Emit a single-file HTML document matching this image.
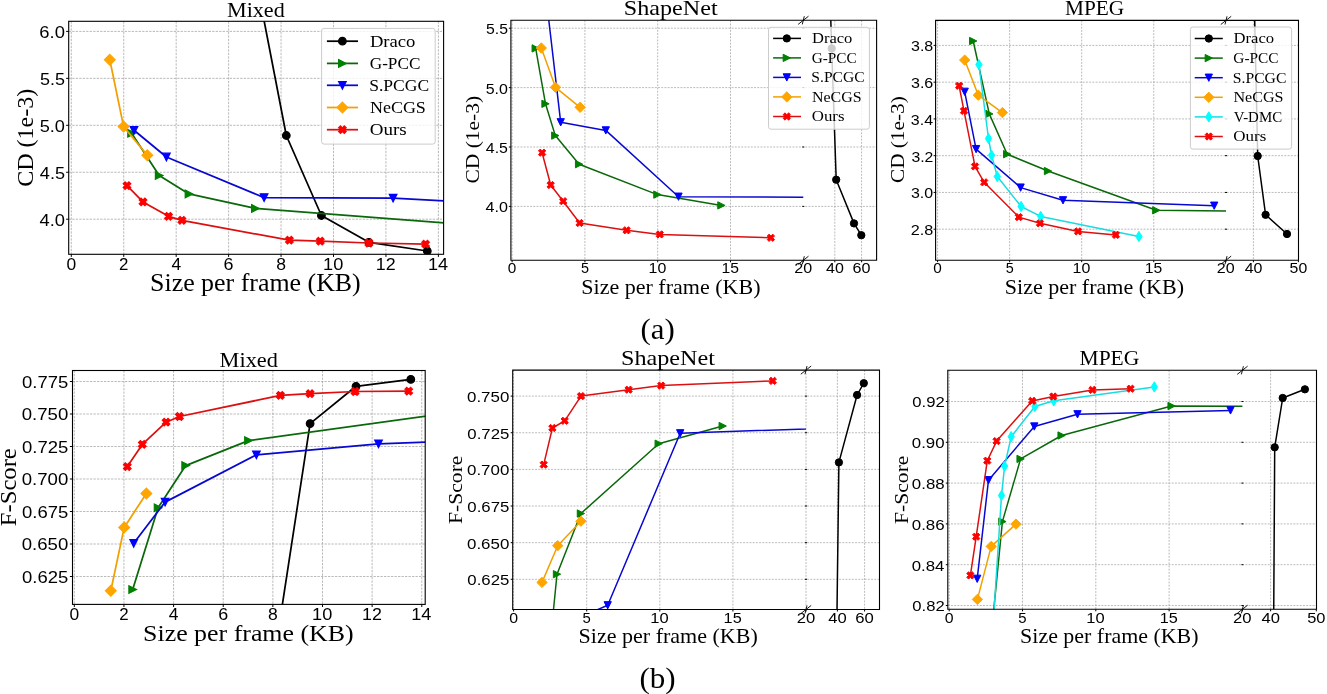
<!DOCTYPE html>
<html><head><meta charset="utf-8"><style>
html,body{margin:0;padding:0;background:#fff;}
svg{display:block;will-change:transform;}
</style></head><body>
<svg width="1327" height="694" viewBox="0 0 1327 694">
<defs><clipPath id="c1"><rect x="68.7" y="21.3" width="374.90000000000003" height="233.0"/></clipPath><clipPath id="c2"><rect x="510.9" y="20.3" width="292.4" height="240.0"/></clipPath><clipPath id="c3"><rect x="803.3" y="20.3" width="73.30000000000007" height="240.0"/></clipPath><clipPath id="c4"><rect x="935.6" y="20.4" width="290.4" height="239.79999999999998"/></clipPath><clipPath id="c5"><rect x="1226.0" y="20.4" width="72.5" height="239.79999999999998"/></clipPath><clipPath id="c6"><rect x="72.5" y="370.5" width="352.7" height="233.89999999999998"/></clipPath><clipPath id="c7"><rect x="512.7" y="370.1" width="293.29999999999995" height="239.39999999999998"/></clipPath><clipPath id="c8"><rect x="806.0" y="370.1" width="73.5" height="239.39999999999998"/></clipPath><clipPath id="c9"><rect x="947.8" y="370.3" width="294.60000000000014" height="238.99999999999994"/></clipPath><clipPath id="c10"><rect x="1242.4" y="370.3" width="74.09999999999991" height="238.99999999999994"/></clipPath></defs>
<rect width="1327" height="694" fill="#fff"/>
<line x1="71.30" y1="21.3" x2="71.30" y2="254.3" stroke="#a8a8a8" stroke-width="0.8" stroke-dasharray="2.3,1.2"/>
<line x1="123.74" y1="21.3" x2="123.74" y2="254.3" stroke="#a8a8a8" stroke-width="0.8" stroke-dasharray="2.3,1.2"/>
<line x1="176.18" y1="21.3" x2="176.18" y2="254.3" stroke="#a8a8a8" stroke-width="0.8" stroke-dasharray="2.3,1.2"/>
<line x1="228.62" y1="21.3" x2="228.62" y2="254.3" stroke="#a8a8a8" stroke-width="0.8" stroke-dasharray="2.3,1.2"/>
<line x1="281.06" y1="21.3" x2="281.06" y2="254.3" stroke="#a8a8a8" stroke-width="0.8" stroke-dasharray="2.3,1.2"/>
<line x1="333.50" y1="21.3" x2="333.50" y2="254.3" stroke="#a8a8a8" stroke-width="0.8" stroke-dasharray="2.3,1.2"/>
<line x1="385.94" y1="21.3" x2="385.94" y2="254.3" stroke="#a8a8a8" stroke-width="0.8" stroke-dasharray="2.3,1.2"/>
<line x1="438.38" y1="21.3" x2="438.38" y2="254.3" stroke="#a8a8a8" stroke-width="0.8" stroke-dasharray="2.3,1.2"/>
<line x1="68.7" y1="219.20" x2="443.6" y2="219.20" stroke="#a8a8a8" stroke-width="0.8" stroke-dasharray="2.3,1.2"/>
<line x1="68.7" y1="172.25" x2="443.6" y2="172.25" stroke="#a8a8a8" stroke-width="0.8" stroke-dasharray="2.3,1.2"/>
<line x1="68.7" y1="125.30" x2="443.6" y2="125.30" stroke="#a8a8a8" stroke-width="0.8" stroke-dasharray="2.3,1.2"/>
<line x1="68.7" y1="78.35" x2="443.6" y2="78.35" stroke="#a8a8a8" stroke-width="0.8" stroke-dasharray="2.3,1.2"/>
<line x1="68.7" y1="31.40" x2="443.6" y2="31.40" stroke="#a8a8a8" stroke-width="0.8" stroke-dasharray="2.3,1.2"/>
<g clip-path="url(#c1)"><polyline points="250.40,-50.00 286.30,135.50 321.40,215.50 368.90,242.30 427.30,251.00" fill="none" stroke="#000000" stroke-width="1.75" stroke-linejoin="round" stroke-linecap="butt"/><circle cx="250.40" cy="-50.00" r="3.80" fill="#000000" stroke="#000000" stroke-width="1.2"/><circle cx="286.30" cy="135.50" r="3.80" fill="#000000" stroke="#000000" stroke-width="1.2"/><circle cx="321.40" cy="215.50" r="3.80" fill="#000000" stroke="#000000" stroke-width="1.2"/><circle cx="368.90" cy="242.30" r="3.80" fill="#000000" stroke="#000000" stroke-width="1.2"/><circle cx="427.30" cy="251.00" r="3.80" fill="#000000" stroke="#000000" stroke-width="1.2"/></g>
<g clip-path="url(#c1)"><polyline points="131.60,133.30 159.20,175.50 189.00,193.90 255.40,208.40 460.00,224.20" fill="none" stroke="#0a680a" stroke-width="1.75" stroke-linejoin="round" stroke-linecap="butt"/><polygon points="127.80,129.50 135.40,133.30 127.80,137.10" fill="#008000" stroke="#008000" stroke-width="1.2" stroke-linejoin="miter"/><polygon points="155.40,171.70 163.00,175.50 155.40,179.30" fill="#008000" stroke="#008000" stroke-width="1.2" stroke-linejoin="miter"/><polygon points="185.20,190.10 192.80,193.90 185.20,197.70" fill="#008000" stroke="#008000" stroke-width="1.2" stroke-linejoin="miter"/><polygon points="251.60,204.60 259.20,208.40 251.60,212.20" fill="#008000" stroke="#008000" stroke-width="1.2" stroke-linejoin="miter"/><polygon points="456.20,220.40 463.80,224.20 456.20,228.00" fill="#008000" stroke="#008000" stroke-width="1.2" stroke-linejoin="miter"/></g>
<g clip-path="url(#c1)"><polyline points="134.00,130.30 166.40,157.00 264.10,197.60 393.10,198.20 460.00,201.70" fill="none" stroke="#0808d0" stroke-width="1.75" stroke-linejoin="round" stroke-linecap="butt"/><polygon points="130.20,126.50 137.80,126.50 134.00,134.10" fill="#0000ff" stroke="#0000ff" stroke-width="1.2" stroke-linejoin="miter"/><polygon points="162.60,153.20 170.20,153.20 166.40,160.80" fill="#0000ff" stroke="#0000ff" stroke-width="1.2" stroke-linejoin="miter"/><polygon points="260.30,193.80 267.90,193.80 264.10,201.40" fill="#0000ff" stroke="#0000ff" stroke-width="1.2" stroke-linejoin="miter"/><polygon points="389.30,194.40 396.90,194.40 393.10,202.00" fill="#0000ff" stroke="#0000ff" stroke-width="1.2" stroke-linejoin="miter"/><polygon points="456.20,197.90 463.80,197.90 460.00,205.50" fill="#0000ff" stroke="#0000ff" stroke-width="1.2" stroke-linejoin="miter"/></g>
<g clip-path="url(#c1)"><polyline points="109.80,59.80 123.60,126.60 147.30,155.20" fill="none" stroke="#f2a000" stroke-width="1.75" stroke-linejoin="round" stroke-linecap="butt"/><polygon points="109.80,54.43 115.17,59.80 109.80,65.17 104.43,59.80" fill="#ffa500" stroke="#ffa500" stroke-width="1.2" stroke-linejoin="miter"/><polygon points="123.60,121.23 128.97,126.60 123.60,131.97 118.23,126.60" fill="#ffa500" stroke="#ffa500" stroke-width="1.2" stroke-linejoin="miter"/><polygon points="147.30,149.83 152.67,155.20 147.30,160.57 141.93,155.20" fill="#ffa500" stroke="#ffa500" stroke-width="1.2" stroke-linejoin="miter"/></g>
<g clip-path="url(#c1)"><polyline points="127.00,185.60 143.00,201.90 168.50,216.30 181.90,220.30 289.40,240.20 320.30,241.20 368.90,243.00 425.60,244.10" fill="none" stroke="#dc1010" stroke-width="1.75" stroke-linejoin="round" stroke-linecap="butt"/><polygon points="125.10,181.80 127.00,183.70 128.90,181.80 130.80,183.70 128.90,185.60 130.80,187.50 128.90,189.40 127.00,187.50 125.10,189.40 123.20,187.50 125.10,185.60 123.20,183.70" fill="#ff0000" stroke="#ff0000" stroke-width="1.2" stroke-linejoin="miter"/><polygon points="141.10,198.10 143.00,200.00 144.90,198.10 146.80,200.00 144.90,201.90 146.80,203.80 144.90,205.70 143.00,203.80 141.10,205.70 139.20,203.80 141.10,201.90 139.20,200.00" fill="#ff0000" stroke="#ff0000" stroke-width="1.2" stroke-linejoin="miter"/><polygon points="166.60,212.50 168.50,214.40 170.40,212.50 172.30,214.40 170.40,216.30 172.30,218.20 170.40,220.10 168.50,218.20 166.60,220.10 164.70,218.20 166.60,216.30 164.70,214.40" fill="#ff0000" stroke="#ff0000" stroke-width="1.2" stroke-linejoin="miter"/><polygon points="180.00,216.50 181.90,218.40 183.80,216.50 185.70,218.40 183.80,220.30 185.70,222.20 183.80,224.10 181.90,222.20 180.00,224.10 178.10,222.20 180.00,220.30 178.10,218.40" fill="#ff0000" stroke="#ff0000" stroke-width="1.2" stroke-linejoin="miter"/><polygon points="287.50,236.40 289.40,238.30 291.30,236.40 293.20,238.30 291.30,240.20 293.20,242.10 291.30,244.00 289.40,242.10 287.50,244.00 285.60,242.10 287.50,240.20 285.60,238.30" fill="#ff0000" stroke="#ff0000" stroke-width="1.2" stroke-linejoin="miter"/><polygon points="318.40,237.40 320.30,239.30 322.20,237.40 324.10,239.30 322.20,241.20 324.10,243.10 322.20,245.00 320.30,243.10 318.40,245.00 316.50,243.10 318.40,241.20 316.50,239.30" fill="#ff0000" stroke="#ff0000" stroke-width="1.2" stroke-linejoin="miter"/><polygon points="367.00,239.20 368.90,241.10 370.80,239.20 372.70,241.10 370.80,243.00 372.70,244.90 370.80,246.80 368.90,244.90 367.00,246.80 365.10,244.90 367.00,243.00 365.10,241.10" fill="#ff0000" stroke="#ff0000" stroke-width="1.2" stroke-linejoin="miter"/><polygon points="423.70,240.30 425.60,242.20 427.50,240.30 429.40,242.20 427.50,244.10 429.40,246.00 427.50,247.90 425.60,246.00 423.70,247.90 421.80,246.00 423.70,244.10 421.80,242.20" fill="#ff0000" stroke="#ff0000" stroke-width="1.2" stroke-linejoin="miter"/></g>
<rect x="68.7" y="21.3" width="374.90000000000003" height="233.0" fill="none" stroke="#000" stroke-width="1.1"/>
<line x1="71.30" y1="254.3" x2="71.30" y2="256.90000000000003" stroke="#000" stroke-width="1"/>
<line x1="123.74" y1="254.3" x2="123.74" y2="256.90000000000003" stroke="#000" stroke-width="1"/>
<line x1="176.18" y1="254.3" x2="176.18" y2="256.90000000000003" stroke="#000" stroke-width="1"/>
<line x1="228.62" y1="254.3" x2="228.62" y2="256.90000000000003" stroke="#000" stroke-width="1"/>
<line x1="281.06" y1="254.3" x2="281.06" y2="256.90000000000003" stroke="#000" stroke-width="1"/>
<line x1="333.50" y1="254.3" x2="333.50" y2="256.90000000000003" stroke="#000" stroke-width="1"/>
<line x1="385.94" y1="254.3" x2="385.94" y2="256.90000000000003" stroke="#000" stroke-width="1"/>
<line x1="438.38" y1="254.3" x2="438.38" y2="256.90000000000003" stroke="#000" stroke-width="1"/>
<line x1="66.10000000000001" y1="219.20" x2="68.7" y2="219.20" stroke="#000" stroke-width="1"/>
<line x1="66.10000000000001" y1="172.25" x2="68.7" y2="172.25" stroke="#000" stroke-width="1"/>
<line x1="66.10000000000001" y1="125.30" x2="68.7" y2="125.30" stroke="#000" stroke-width="1"/>
<line x1="66.10000000000001" y1="78.35" x2="68.7" y2="78.35" stroke="#000" stroke-width="1"/>
<line x1="66.10000000000001" y1="31.40" x2="68.7" y2="31.40" stroke="#000" stroke-width="1"/>
<text transform="translate(39.51,225.55) scale(1.1109,1)" font-family='"Liberation Sans", sans-serif' font-size="16.50">4.0</text>
<text transform="translate(39.84,178.60) scale(1.0979,1)" font-family='"Liberation Sans", sans-serif' font-size="16.50">4.5</text>
<text transform="translate(39.69,131.65) scale(1.1029,1)" font-family='"Liberation Sans", sans-serif' font-size="16.50">5.0</text>
<text transform="translate(40.03,84.70) scale(1.0897,1)" font-family='"Liberation Sans", sans-serif' font-size="16.50">5.5</text>
<text transform="translate(39.37,37.75) scale(1.1171,1)" font-family='"Liberation Sans", sans-serif' font-size="16.50">6.0</text>
<text transform="translate(66.44,270.21) scale(1.0576,1)" font-family='"Liberation Sans", sans-serif' font-size="16.50">0</text>
<text transform="translate(119.06,270.21) scale(1.0220,1)" font-family='"Liberation Sans", sans-serif' font-size="16.50">2</text>
<text transform="translate(171.40,270.21) scale(1.0545,1)" font-family='"Liberation Sans", sans-serif' font-size="16.50">4</text>
<text transform="translate(223.58,270.21) scale(1.0865,1)" font-family='"Liberation Sans", sans-serif' font-size="16.50">6</text>
<text transform="translate(276.19,270.21) scale(1.0638,1)" font-family='"Liberation Sans", sans-serif' font-size="16.50">8</text>
<text transform="translate(323.08,270.21) scale(1.1003,1)" font-family='"Liberation Sans", sans-serif' font-size="16.50">10</text>
<text transform="translate(375.82,270.21) scale(1.0812,1)" font-family='"Liberation Sans", sans-serif' font-size="16.50">12</text>
<text transform="translate(427.88,270.21) scale(1.0993,1)" font-family='"Liberation Sans", sans-serif' font-size="16.50">14</text>
<text transform="translate(226.99,17.20) scale(1.0822,1)" font-family='"Liberation Serif", serif' font-size="20.46" fill="#000" >Mixed</text>
<text transform="translate(150.05,291.30) scale(1.0745,1)" font-family='"Liberation Serif", serif' font-size="24.12" fill="#000" >Size per frame (KB)</text>
<text transform="translate(32.50,185.90) rotate(-90) scale(1.0727,1)" x="-0.90" font-family='"Liberation Serif", serif' font-size="22.44">CD (1e-3)</text>
<rect x="321.6" y="28.4" width="113.59999999999997" height="115.69999999999999" rx="2.5" ry="2.5" fill="#fff" fill-opacity="0.8" stroke="#cccccc" stroke-width="1"/>
<line x1="326.9" y1="41.20" x2="358" y2="41.20" stroke="#000000" stroke-width="1.75"/>
<circle cx="342.40" cy="41.20" r="3.80" fill="#000000" stroke="#000000" stroke-width="1.2"/>
<text transform="translate(369.89,46.60) scale(1.1316,1)" font-family='"Liberation Serif", serif' font-size="16.49">Draco</text>
<line x1="326.9" y1="63.40" x2="358" y2="63.40" stroke="#0a680a" stroke-width="1.75"/>
<polygon points="338.60,59.60 346.20,63.40 338.60,67.20" fill="#008000" stroke="#008000" stroke-width="1.2" stroke-linejoin="miter"/>
<text transform="translate(369.71,68.80) scale(1.0438,1)" font-family='"Liberation Serif", serif' font-size="16.49">G-PCC</text>
<line x1="326.9" y1="85.30" x2="358" y2="85.30" stroke="#0808d0" stroke-width="1.75"/>
<polygon points="338.60,81.50 346.20,81.50 342.40,89.10" fill="#0000ff" stroke="#0000ff" stroke-width="1.2" stroke-linejoin="miter"/>
<text transform="translate(369.21,90.70) scale(1.0649,1)" font-family='"Liberation Serif", serif' font-size="16.49">S.PCGC</text>
<line x1="326.9" y1="107.50" x2="358" y2="107.50" stroke="#f2a000" stroke-width="1.75"/>
<polygon points="342.40,102.13 347.77,107.50 342.40,112.87 337.03,107.50" fill="#ffa500" stroke="#ffa500" stroke-width="1.2" stroke-linejoin="miter"/>
<text transform="translate(369.91,112.90) scale(1.0912,1)" font-family='"Liberation Serif", serif' font-size="16.49">NeCGS</text>
<line x1="326.9" y1="129.70" x2="358" y2="129.70" stroke="#dc1010" stroke-width="1.75"/>
<polygon points="340.50,125.90 342.40,127.80 344.30,125.90 346.20,127.80 344.30,129.70 346.20,131.60 344.30,133.50 342.40,131.60 340.50,133.50 338.60,131.60 340.50,129.70 338.60,127.80" fill="#ff0000" stroke="#ff0000" stroke-width="1.2" stroke-linejoin="miter"/>
<text transform="translate(369.64,135.10) scale(1.1545,1)" font-family='"Liberation Serif", serif' font-size="16.49">Ours</text>
<line x1="512.10" y1="20.3" x2="512.10" y2="260.3" stroke="#a8a8a8" stroke-width="0.8" stroke-dasharray="1.9,1.3"/>
<line x1="584.90" y1="20.3" x2="584.90" y2="260.3" stroke="#a8a8a8" stroke-width="0.8" stroke-dasharray="1.9,1.3"/>
<line x1="657.70" y1="20.3" x2="657.70" y2="260.3" stroke="#a8a8a8" stroke-width="0.8" stroke-dasharray="1.9,1.3"/>
<line x1="730.50" y1="20.3" x2="730.50" y2="260.3" stroke="#a8a8a8" stroke-width="0.8" stroke-dasharray="1.9,1.3"/>
<line x1="834.80" y1="20.3" x2="834.80" y2="260.3" stroke="#a8a8a8" stroke-width="0.8" stroke-dasharray="1.9,1.3"/>
<line x1="861.60" y1="20.3" x2="861.60" y2="260.3" stroke="#a8a8a8" stroke-width="0.8" stroke-dasharray="1.9,1.3"/>
<line x1="510.9" y1="206.40" x2="876.6" y2="206.40" stroke="#a8a8a8" stroke-width="0.8" stroke-dasharray="1.9,1.3"/>
<line x1="510.9" y1="147.00" x2="876.6" y2="147.00" stroke="#a8a8a8" stroke-width="0.8" stroke-dasharray="1.9,1.3"/>
<line x1="510.9" y1="87.60" x2="876.6" y2="87.60" stroke="#a8a8a8" stroke-width="0.8" stroke-dasharray="1.9,1.3"/>
<line x1="510.9" y1="28.20" x2="876.6" y2="28.20" stroke="#a8a8a8" stroke-width="0.8" stroke-dasharray="1.9,1.3"/>
<g clip-path="url(#c2)"><polyline points="535.70,48.40 545.50,103.80 555.30,135.60 579.10,164.20 657.40,194.60 721.40,205.40" fill="none" stroke="#0a680a" stroke-width="1.5" stroke-linejoin="round" stroke-linecap="butt"/><polygon points="532.05,44.75 539.35,48.40 532.05,52.05" fill="#008000" stroke="#008000" stroke-width="1.0" stroke-linejoin="miter"/><polygon points="541.85,100.15 549.15,103.80 541.85,107.45" fill="#008000" stroke="#008000" stroke-width="1.0" stroke-linejoin="miter"/><polygon points="551.65,131.95 558.95,135.60 551.65,139.25" fill="#008000" stroke="#008000" stroke-width="1.0" stroke-linejoin="miter"/><polygon points="575.45,160.55 582.75,164.20 575.45,167.85" fill="#008000" stroke="#008000" stroke-width="1.0" stroke-linejoin="miter"/><polygon points="653.75,190.95 661.05,194.60 653.75,198.25" fill="#008000" stroke="#008000" stroke-width="1.0" stroke-linejoin="miter"/><polygon points="717.75,201.75 725.05,205.40 717.75,209.05" fill="#008000" stroke="#008000" stroke-width="1.0" stroke-linejoin="miter"/></g>
<g clip-path="url(#c2)"><polyline points="544.10,-20.00 560.70,122.30 605.80,130.40 678.50,196.70 900.00,197.50" fill="none" stroke="#0808d0" stroke-width="1.5" stroke-linejoin="round" stroke-linecap="butt"/><polygon points="540.45,-23.65 547.75,-23.65 544.10,-16.35" fill="#0000ff" stroke="#0000ff" stroke-width="1.0" stroke-linejoin="miter"/><polygon points="557.05,118.65 564.35,118.65 560.70,125.95" fill="#0000ff" stroke="#0000ff" stroke-width="1.0" stroke-linejoin="miter"/><polygon points="602.15,126.75 609.45,126.75 605.80,134.05" fill="#0000ff" stroke="#0000ff" stroke-width="1.0" stroke-linejoin="miter"/><polygon points="674.85,193.05 682.15,193.05 678.50,200.35" fill="#0000ff" stroke="#0000ff" stroke-width="1.0" stroke-linejoin="miter"/><polygon points="896.35,193.85 903.65,193.85 900.00,201.15" fill="#0000ff" stroke="#0000ff" stroke-width="1.0" stroke-linejoin="miter"/></g>
<g clip-path="url(#c2)"><polyline points="541.30,48.00 555.50,87.30 580.10,107.30" fill="none" stroke="#f2a000" stroke-width="1.5" stroke-linejoin="round" stroke-linecap="butt"/><polygon points="541.30,42.84 546.46,48.00 541.30,53.16 536.14,48.00" fill="#ffa500" stroke="#ffa500" stroke-width="1.0" stroke-linejoin="miter"/><polygon points="555.50,82.14 560.66,87.30 555.50,92.46 550.34,87.30" fill="#ffa500" stroke="#ffa500" stroke-width="1.0" stroke-linejoin="miter"/><polygon points="580.10,102.14 585.26,107.30 580.10,112.46 574.94,107.30" fill="#ffa500" stroke="#ffa500" stroke-width="1.0" stroke-linejoin="miter"/></g>
<g clip-path="url(#c2)"><polyline points="542.10,152.70 550.70,185.00 563.20,201.20 579.60,223.00 626.60,230.30 659.80,234.40 770.90,237.80" fill="none" stroke="#dc1010" stroke-width="1.5" stroke-linejoin="round" stroke-linecap="butt"/><polygon points="540.27,149.05 542.10,150.88 543.93,149.05 545.75,150.88 543.93,152.70 545.75,154.52 543.93,156.35 542.10,154.52 540.27,156.35 538.45,154.52 540.27,152.70 538.45,150.88" fill="#ff0000" stroke="#ff0000" stroke-width="1.0" stroke-linejoin="miter"/><polygon points="548.88,181.35 550.70,183.18 552.53,181.35 554.35,183.18 552.53,185.00 554.35,186.82 552.53,188.65 550.70,186.82 548.88,188.65 547.05,186.82 548.88,185.00 547.05,183.18" fill="#ff0000" stroke="#ff0000" stroke-width="1.0" stroke-linejoin="miter"/><polygon points="561.38,197.55 563.20,199.38 565.03,197.55 566.85,199.38 565.03,201.20 566.85,203.02 565.03,204.85 563.20,203.02 561.38,204.85 559.55,203.02 561.38,201.20 559.55,199.38" fill="#ff0000" stroke="#ff0000" stroke-width="1.0" stroke-linejoin="miter"/><polygon points="577.77,219.35 579.60,221.18 581.43,219.35 583.25,221.18 581.43,223.00 583.25,224.82 581.43,226.65 579.60,224.82 577.77,226.65 575.95,224.82 577.77,223.00 575.95,221.18" fill="#ff0000" stroke="#ff0000" stroke-width="1.0" stroke-linejoin="miter"/><polygon points="624.77,226.65 626.60,228.48 628.43,226.65 630.25,228.48 628.43,230.30 630.25,232.12 628.43,233.95 626.60,232.12 624.77,233.95 622.95,232.12 624.77,230.30 622.95,228.48" fill="#ff0000" stroke="#ff0000" stroke-width="1.0" stroke-linejoin="miter"/><polygon points="657.97,230.75 659.80,232.58 661.62,230.75 663.45,232.58 661.62,234.40 663.45,236.22 661.62,238.05 659.80,236.22 657.97,238.05 656.15,236.22 657.97,234.40 656.15,232.58" fill="#ff0000" stroke="#ff0000" stroke-width="1.0" stroke-linejoin="miter"/><polygon points="769.07,234.15 770.90,235.98 772.73,234.15 774.55,235.98 772.73,237.80 774.55,239.62 772.73,241.45 770.90,239.62 769.07,241.45 767.25,239.62 769.07,237.80 767.25,235.98" fill="#ff0000" stroke="#ff0000" stroke-width="1.0" stroke-linejoin="miter"/></g>
<g clip-path="url(#c3)"><polyline points="829.50,-20.00 831.70,48.40 836.20,179.70 854.00,223.40 861.30,235.20" fill="none" stroke="#000000" stroke-width="1.5" stroke-linejoin="round" stroke-linecap="butt"/><circle cx="829.50" cy="-20.00" r="3.65" fill="#000000" stroke="#000000" stroke-width="1.0"/><circle cx="831.70" cy="48.40" r="3.65" fill="#000000" stroke="#000000" stroke-width="1.0"/><circle cx="836.20" cy="179.70" r="3.65" fill="#000000" stroke="#000000" stroke-width="1.0"/><circle cx="854.00" cy="223.40" r="3.65" fill="#000000" stroke="#000000" stroke-width="1.0"/><circle cx="861.30" cy="235.20" r="3.65" fill="#000000" stroke="#000000" stroke-width="1.0"/></g>
<path d="M510.9,20.3 H876.6 V260.3 H510.9 Z" fill="none" stroke="#000" stroke-width="1.1"/>
<line x1="512.10" y1="260.3" x2="512.10" y2="262.3" stroke="#000" stroke-width="1"/>
<line x1="584.90" y1="260.3" x2="584.90" y2="262.3" stroke="#000" stroke-width="1"/>
<line x1="657.70" y1="260.3" x2="657.70" y2="262.3" stroke="#000" stroke-width="1"/>
<line x1="730.50" y1="260.3" x2="730.50" y2="262.3" stroke="#000" stroke-width="1"/>
<line x1="803.30" y1="260.3" x2="803.30" y2="262.3" stroke="#000" stroke-width="1"/>
<line x1="834.80" y1="260.3" x2="834.80" y2="262.3" stroke="#000" stroke-width="1"/>
<line x1="861.60" y1="260.3" x2="861.60" y2="262.3" stroke="#000" stroke-width="1"/>
<line x1="508.9" y1="206.40" x2="510.9" y2="206.40" stroke="#000" stroke-width="1"/>
<line x1="508.9" y1="147.00" x2="510.9" y2="147.00" stroke="#000" stroke-width="1"/>
<line x1="508.9" y1="87.60" x2="510.9" y2="87.60" stroke="#000" stroke-width="1"/>
<line x1="508.9" y1="28.20" x2="510.9" y2="28.20" stroke="#000" stroke-width="1"/>
<line x1="802.3" y1="206.40" x2="804.3" y2="206.40" stroke="#000" stroke-width="1"/>
<line x1="802.3" y1="147.00" x2="804.3" y2="147.00" stroke="#000" stroke-width="1"/>
<line x1="802.3" y1="87.60" x2="804.3" y2="87.60" stroke="#000" stroke-width="1"/>
<line x1="802.3" y1="28.20" x2="804.3" y2="28.20" stroke="#000" stroke-width="1"/>
<text transform="translate(485.51,212.37) scale(1.0460,1)" font-family='"Liberation Sans", sans-serif' font-size="15.40">4.0</text>
<text transform="translate(485.81,152.97) scale(1.0338,1)" font-family='"Liberation Sans", sans-serif' font-size="15.40">4.5</text>
<text transform="translate(485.67,93.57) scale(1.0384,1)" font-family='"Liberation Sans", sans-serif' font-size="15.40">5.0</text>
<text transform="translate(485.97,34.17) scale(1.0260,1)" font-family='"Liberation Sans", sans-serif' font-size="15.40">5.5</text>
<text transform="translate(507.83,273.24) scale(0.9958,1)" font-family='"Liberation Sans", sans-serif' font-size="15.40">0</text>
<text transform="translate(580.90,273.24) scale(0.9366,1)" font-family='"Liberation Sans", sans-serif' font-size="15.40">5</text>
<text transform="translate(648.55,273.24) scale(1.0360,1)" font-family='"Liberation Sans", sans-serif' font-size="15.40">10</text>
<text transform="translate(721.51,273.24) scale(1.0196,1)" font-family='"Liberation Sans", sans-serif' font-size="15.40">15</text>
<text transform="translate(794.27,273.24) scale(1.0452,1)" font-family='"Liberation Sans", sans-serif' font-size="15.40">20</text>
<text transform="translate(826.03,273.24) scale(1.0402,1)" font-family='"Liberation Sans", sans-serif' font-size="15.40">40</text>
<text transform="translate(852.55,273.24) scale(1.0475,1)" font-family='"Liberation Sans", sans-serif' font-size="15.40">60</text>
<line x1="798.10" y1="24.40" x2="808.50" y2="16.20" stroke="#000" stroke-width="0.9"/>
<line x1="802.30" y1="24.40" x2="804.30" y2="16.20" stroke="#000" stroke-width="0.9"/>
<line x1="798.10" y1="264.40" x2="808.50" y2="256.20" stroke="#000" stroke-width="0.9"/>
<line x1="802.30" y1="264.40" x2="804.30" y2="256.20" stroke="#000" stroke-width="0.9"/>
<text transform="translate(623.87,15.10) scale(1.1801,1)" font-family='"Liberation Serif", serif' font-size="20.46" fill="#000" >ShapeNet</text>
<text transform="translate(581.31,294.10) scale(1.0769,1)" font-family='"Liberation Serif", serif' font-size="20.46" fill="#000" >Size per frame (KB)</text>
<text transform="translate(478.60,182.60) rotate(-90) scale(1.1253,1)" x="-0.76" font-family='"Liberation Serif", serif' font-size="19.08">CD (1e-3)</text>
<rect x="768.5" y="27.3" width="100.89999999999998" height="101.89999999999999" rx="2.5" ry="2.5" fill="#fff" fill-opacity="0.8" stroke="#cccccc" stroke-width="1"/>
<line x1="773.1" y1="38.40" x2="801" y2="38.40" stroke="#000000" stroke-width="1.5"/>
<circle cx="786.80" cy="38.40" r="3.65" fill="#000000" stroke="#000000" stroke-width="1.0"/>
<text transform="translate(811.95,43.20) scale(1.1279,1)" font-family='"Liberation Serif", serif' font-size="14.66">Draco</text>
<line x1="773.1" y1="57.90" x2="801" y2="57.90" stroke="#0a680a" stroke-width="1.5"/>
<polygon points="783.15,54.25 790.45,57.90 783.15,61.55" fill="#008000" stroke="#008000" stroke-width="1.0" stroke-linejoin="miter"/>
<text transform="translate(811.79,62.70) scale(1.0404,1)" font-family='"Liberation Serif", serif' font-size="14.66">G-PCC</text>
<line x1="773.1" y1="77.40" x2="801" y2="77.40" stroke="#0808d0" stroke-width="1.5"/>
<polygon points="783.15,73.75 790.45,73.75 786.80,81.05" fill="#0000ff" stroke="#0000ff" stroke-width="1.0" stroke-linejoin="miter"/>
<text transform="translate(811.35,82.20) scale(1.0615,1)" font-family='"Liberation Serif", serif' font-size="14.66">S.PCGC</text>
<line x1="773.1" y1="96.90" x2="801" y2="96.90" stroke="#f2a000" stroke-width="1.5"/>
<polygon points="786.80,91.74 791.96,96.90 786.80,102.06 781.64,96.90" fill="#ffa500" stroke="#ffa500" stroke-width="1.0" stroke-linejoin="miter"/>
<text transform="translate(811.96,101.70) scale(1.0877,1)" font-family='"Liberation Serif", serif' font-size="14.66">NeCGS</text>
<line x1="773.1" y1="116.50" x2="801" y2="116.50" stroke="#dc1010" stroke-width="1.5"/>
<polygon points="784.97,112.85 786.80,114.67 788.62,112.85 790.45,114.67 788.62,116.50 790.45,118.33 788.62,120.15 786.80,118.33 784.97,120.15 783.15,118.33 784.97,116.50 783.15,114.67" fill="#ff0000" stroke="#ff0000" stroke-width="1.0" stroke-linejoin="miter"/>
<text transform="translate(811.73,121.30) scale(1.1507,1)" font-family='"Liberation Serif", serif' font-size="14.66">Ours</text>
<line x1="937.60" y1="20.4" x2="937.60" y2="260.2" stroke="#a8a8a8" stroke-width="0.8" stroke-dasharray="1.9,1.3"/>
<line x1="1009.65" y1="20.4" x2="1009.65" y2="260.2" stroke="#a8a8a8" stroke-width="0.8" stroke-dasharray="1.9,1.3"/>
<line x1="1081.70" y1="20.4" x2="1081.70" y2="260.2" stroke="#a8a8a8" stroke-width="0.8" stroke-dasharray="1.9,1.3"/>
<line x1="1153.75" y1="20.4" x2="1153.75" y2="260.2" stroke="#a8a8a8" stroke-width="0.8" stroke-dasharray="1.9,1.3"/>
<line x1="1253.40" y1="20.4" x2="1253.40" y2="260.2" stroke="#a8a8a8" stroke-width="0.8" stroke-dasharray="1.9,1.3"/>
<line x1="935.6" y1="229.20" x2="1298.5" y2="229.20" stroke="#a8a8a8" stroke-width="0.8" stroke-dasharray="1.9,1.3"/>
<line x1="935.6" y1="192.44" x2="1298.5" y2="192.44" stroke="#a8a8a8" stroke-width="0.8" stroke-dasharray="1.9,1.3"/>
<line x1="935.6" y1="155.68" x2="1298.5" y2="155.68" stroke="#a8a8a8" stroke-width="0.8" stroke-dasharray="1.9,1.3"/>
<line x1="935.6" y1="118.92" x2="1298.5" y2="118.92" stroke="#a8a8a8" stroke-width="0.8" stroke-dasharray="1.9,1.3"/>
<line x1="935.6" y1="82.16" x2="1298.5" y2="82.16" stroke="#a8a8a8" stroke-width="0.8" stroke-dasharray="1.9,1.3"/>
<line x1="935.6" y1="45.40" x2="1298.5" y2="45.40" stroke="#a8a8a8" stroke-width="0.8" stroke-dasharray="1.9,1.3"/>
<g clip-path="url(#c4)"><polyline points="973.20,41.00 989.30,113.90 1007.20,154.20 1048.00,171.00 1156.30,210.30 1300.00,211.60" fill="none" stroke="#0a680a" stroke-width="1.5" stroke-linejoin="round" stroke-linecap="butt"/><polygon points="969.55,37.35 976.85,41.00 969.55,44.65" fill="#008000" stroke="#008000" stroke-width="1.0" stroke-linejoin="miter"/><polygon points="985.65,110.25 992.95,113.90 985.65,117.55" fill="#008000" stroke="#008000" stroke-width="1.0" stroke-linejoin="miter"/><polygon points="1003.55,150.55 1010.85,154.20 1003.55,157.85" fill="#008000" stroke="#008000" stroke-width="1.0" stroke-linejoin="miter"/><polygon points="1044.35,167.35 1051.65,171.00 1044.35,174.65" fill="#008000" stroke="#008000" stroke-width="1.0" stroke-linejoin="miter"/><polygon points="1152.65,206.65 1159.95,210.30 1152.65,213.95" fill="#008000" stroke="#008000" stroke-width="1.0" stroke-linejoin="miter"/><polygon points="1296.35,207.95 1303.65,211.60 1296.35,215.25" fill="#008000" stroke="#008000" stroke-width="1.0" stroke-linejoin="miter"/></g>
<g clip-path="url(#c4)"><polyline points="964.70,91.80 976.10,149.10 1020.60,187.60 1063.00,200.30 1214.20,205.70" fill="none" stroke="#0808d0" stroke-width="1.5" stroke-linejoin="round" stroke-linecap="butt"/><polygon points="961.05,88.15 968.35,88.15 964.70,95.45" fill="#0000ff" stroke="#0000ff" stroke-width="1.0" stroke-linejoin="miter"/><polygon points="972.45,145.45 979.75,145.45 976.10,152.75" fill="#0000ff" stroke="#0000ff" stroke-width="1.0" stroke-linejoin="miter"/><polygon points="1016.95,183.95 1024.25,183.95 1020.60,191.25" fill="#0000ff" stroke="#0000ff" stroke-width="1.0" stroke-linejoin="miter"/><polygon points="1059.35,196.65 1066.65,196.65 1063.00,203.95" fill="#0000ff" stroke="#0000ff" stroke-width="1.0" stroke-linejoin="miter"/><polygon points="1210.55,202.05 1217.85,202.05 1214.20,209.35" fill="#0000ff" stroke="#0000ff" stroke-width="1.0" stroke-linejoin="miter"/></g>
<g clip-path="url(#c4)"><polyline points="964.70,60.10 978.30,95.20 1002.40,112.60" fill="none" stroke="#f2a000" stroke-width="1.5" stroke-linejoin="round" stroke-linecap="butt"/><polygon points="964.70,54.94 969.86,60.10 964.70,65.26 959.54,60.10" fill="#ffa500" stroke="#ffa500" stroke-width="1.0" stroke-linejoin="miter"/><polygon points="978.30,90.04 983.46,95.20 978.30,100.36 973.14,95.20" fill="#ffa500" stroke="#ffa500" stroke-width="1.0" stroke-linejoin="miter"/><polygon points="1002.40,107.44 1007.56,112.60 1002.40,117.76 997.24,112.60" fill="#ffa500" stroke="#ffa500" stroke-width="1.0" stroke-linejoin="miter"/></g>
<g clip-path="url(#c4)"><polyline points="978.90,64.60 988.50,138.50 991.60,155.30 997.30,176.50 1021.10,206.50 1040.70,216.40 1138.90,236.50" fill="none" stroke="#18dce2" stroke-width="1.5" stroke-linejoin="round" stroke-linecap="butt"/><polygon points="978.90,59.44 982.00,64.60 978.90,69.76 975.80,64.60" fill="#00ffff" stroke="#00ffff" stroke-width="1.0" stroke-linejoin="miter"/><polygon points="988.50,133.34 991.60,138.50 988.50,143.66 985.40,138.50" fill="#00ffff" stroke="#00ffff" stroke-width="1.0" stroke-linejoin="miter"/><polygon points="991.60,150.14 994.70,155.30 991.60,160.46 988.50,155.30" fill="#00ffff" stroke="#00ffff" stroke-width="1.0" stroke-linejoin="miter"/><polygon points="997.30,171.34 1000.40,176.50 997.30,181.66 994.20,176.50" fill="#00ffff" stroke="#00ffff" stroke-width="1.0" stroke-linejoin="miter"/><polygon points="1021.10,201.34 1024.20,206.50 1021.10,211.66 1018.00,206.50" fill="#00ffff" stroke="#00ffff" stroke-width="1.0" stroke-linejoin="miter"/><polygon points="1040.70,211.24 1043.80,216.40 1040.70,221.56 1037.60,216.40" fill="#00ffff" stroke="#00ffff" stroke-width="1.0" stroke-linejoin="miter"/><polygon points="1138.90,231.34 1142.00,236.50 1138.90,241.66 1135.80,236.50" fill="#00ffff" stroke="#00ffff" stroke-width="1.0" stroke-linejoin="miter"/></g>
<g clip-path="url(#c4)"><polyline points="959.10,85.80 964.00,110.90 975.00,166.40 984.20,182.30 1018.80,217.10 1040.00,223.30 1078.00,231.40 1115.90,234.90" fill="none" stroke="#dc1010" stroke-width="1.5" stroke-linejoin="round" stroke-linecap="butt"/><polygon points="957.27,82.15 959.10,83.97 960.93,82.15 962.75,83.97 960.93,85.80 962.75,87.62 960.93,89.45 959.10,87.62 957.27,89.45 955.45,87.62 957.27,85.80 955.45,83.97" fill="#ff0000" stroke="#ff0000" stroke-width="1.0" stroke-linejoin="miter"/><polygon points="962.17,107.25 964.00,109.08 965.83,107.25 967.65,109.08 965.83,110.90 967.65,112.73 965.83,114.55 964.00,112.73 962.17,114.55 960.35,112.73 962.17,110.90 960.35,109.08" fill="#ff0000" stroke="#ff0000" stroke-width="1.0" stroke-linejoin="miter"/><polygon points="973.17,162.75 975.00,164.58 976.83,162.75 978.65,164.58 976.83,166.40 978.65,168.22 976.83,170.05 975.00,168.22 973.17,170.05 971.35,168.22 973.17,166.40 971.35,164.58" fill="#ff0000" stroke="#ff0000" stroke-width="1.0" stroke-linejoin="miter"/><polygon points="982.38,178.65 984.20,180.48 986.03,178.65 987.85,180.48 986.03,182.30 987.85,184.12 986.03,185.95 984.20,184.12 982.38,185.95 980.55,184.12 982.38,182.30 980.55,180.48" fill="#ff0000" stroke="#ff0000" stroke-width="1.0" stroke-linejoin="miter"/><polygon points="1016.97,213.45 1018.80,215.28 1020.62,213.45 1022.45,215.28 1020.62,217.10 1022.45,218.92 1020.62,220.75 1018.80,218.92 1016.97,220.75 1015.15,218.92 1016.97,217.10 1015.15,215.28" fill="#ff0000" stroke="#ff0000" stroke-width="1.0" stroke-linejoin="miter"/><polygon points="1038.17,219.65 1040.00,221.48 1041.83,219.65 1043.65,221.48 1041.83,223.30 1043.65,225.12 1041.83,226.95 1040.00,225.12 1038.17,226.95 1036.35,225.12 1038.17,223.30 1036.35,221.48" fill="#ff0000" stroke="#ff0000" stroke-width="1.0" stroke-linejoin="miter"/><polygon points="1076.17,227.75 1078.00,229.58 1079.83,227.75 1081.65,229.58 1079.83,231.40 1081.65,233.22 1079.83,235.05 1078.00,233.22 1076.17,235.05 1074.35,233.22 1076.17,231.40 1074.35,229.58" fill="#ff0000" stroke="#ff0000" stroke-width="1.0" stroke-linejoin="miter"/><polygon points="1114.08,231.25 1115.90,233.08 1117.73,231.25 1119.55,233.08 1117.73,234.90 1119.55,236.72 1117.73,238.55 1115.90,236.72 1114.08,238.55 1112.25,236.72 1114.08,234.90 1112.25,233.08" fill="#ff0000" stroke="#ff0000" stroke-width="1.0" stroke-linejoin="miter"/></g>
<g clip-path="url(#c5)"><polyline points="1253.80,-20.00 1257.70,156.00 1265.60,214.80 1287.00,234.00" fill="none" stroke="#000000" stroke-width="1.5" stroke-linejoin="round" stroke-linecap="butt"/><circle cx="1253.80" cy="-20.00" r="3.65" fill="#000000" stroke="#000000" stroke-width="1.0"/><circle cx="1257.70" cy="156.00" r="3.65" fill="#000000" stroke="#000000" stroke-width="1.0"/><circle cx="1265.60" cy="214.80" r="3.65" fill="#000000" stroke="#000000" stroke-width="1.0"/><circle cx="1287.00" cy="234.00" r="3.65" fill="#000000" stroke="#000000" stroke-width="1.0"/></g>
<path d="M935.6,20.4 H1298.5 V260.2 H935.6 Z" fill="none" stroke="#000" stroke-width="1.1"/>
<line x1="937.60" y1="260.2" x2="937.60" y2="262.2" stroke="#000" stroke-width="1"/>
<line x1="1009.65" y1="260.2" x2="1009.65" y2="262.2" stroke="#000" stroke-width="1"/>
<line x1="1081.70" y1="260.2" x2="1081.70" y2="262.2" stroke="#000" stroke-width="1"/>
<line x1="1153.75" y1="260.2" x2="1153.75" y2="262.2" stroke="#000" stroke-width="1"/>
<line x1="1225.80" y1="260.2" x2="1225.80" y2="262.2" stroke="#000" stroke-width="1"/>
<line x1="1253.40" y1="260.2" x2="1253.40" y2="262.2" stroke="#000" stroke-width="1"/>
<line x1="1298.40" y1="260.2" x2="1298.40" y2="262.2" stroke="#000" stroke-width="1"/>
<line x1="933.6" y1="229.20" x2="935.6" y2="229.20" stroke="#000" stroke-width="1"/>
<line x1="933.6" y1="192.44" x2="935.6" y2="192.44" stroke="#000" stroke-width="1"/>
<line x1="933.6" y1="155.68" x2="935.6" y2="155.68" stroke="#000" stroke-width="1"/>
<line x1="933.6" y1="118.92" x2="935.6" y2="118.92" stroke="#000" stroke-width="1"/>
<line x1="933.6" y1="82.16" x2="935.6" y2="82.16" stroke="#000" stroke-width="1"/>
<line x1="933.6" y1="45.40" x2="935.6" y2="45.40" stroke="#000" stroke-width="1"/>
<line x1="1225.0" y1="229.20" x2="1227.0" y2="229.20" stroke="#000" stroke-width="1"/>
<line x1="1225.0" y1="192.44" x2="1227.0" y2="192.44" stroke="#000" stroke-width="1"/>
<line x1="1225.0" y1="155.68" x2="1227.0" y2="155.68" stroke="#000" stroke-width="1"/>
<line x1="1225.0" y1="118.92" x2="1227.0" y2="118.92" stroke="#000" stroke-width="1"/>
<line x1="1225.0" y1="82.16" x2="1227.0" y2="82.16" stroke="#000" stroke-width="1"/>
<line x1="1225.0" y1="45.40" x2="1227.0" y2="45.40" stroke="#000" stroke-width="1"/>
<text transform="translate(910.76,235.17) scale(1.0522,1)" font-family='"Liberation Sans", sans-serif' font-size="15.40">2.8</text>
<text transform="translate(910.98,198.41) scale(1.0382,1)" font-family='"Liberation Sans", sans-serif' font-size="15.40">3.0</text>
<text transform="translate(911.45,161.65) scale(1.0247,1)" font-family='"Liberation Sans", sans-serif' font-size="15.40">3.2</text>
<text transform="translate(910.83,124.89) scale(1.0375,1)" font-family='"Liberation Sans", sans-serif' font-size="15.40">3.4</text>
<text transform="translate(910.94,88.13) scale(1.0440,1)" font-family='"Liberation Sans", sans-serif' font-size="15.40">3.6</text>
<text transform="translate(911.01,51.37) scale(1.0404,1)" font-family='"Liberation Sans", sans-serif' font-size="15.40">3.8</text>
<text transform="translate(933.33,273.24) scale(0.9958,1)" font-family='"Liberation Sans", sans-serif' font-size="15.40">0</text>
<text transform="translate(1005.65,273.24) scale(0.9366,1)" font-family='"Liberation Sans", sans-serif' font-size="15.40">5</text>
<text transform="translate(1072.55,273.24) scale(1.0360,1)" font-family='"Liberation Sans", sans-serif' font-size="15.40">10</text>
<text transform="translate(1144.76,273.24) scale(1.0196,1)" font-family='"Liberation Sans", sans-serif' font-size="15.40">15</text>
<text transform="translate(1216.77,273.24) scale(1.0452,1)" font-family='"Liberation Sans", sans-serif' font-size="15.40">20</text>
<text transform="translate(1244.63,273.24) scale(1.0402,1)" font-family='"Liberation Sans", sans-serif' font-size="15.40">40</text>
<text transform="translate(1289.57,273.24) scale(1.0305,1)" font-family='"Liberation Sans", sans-serif' font-size="15.40">50</text>
<line x1="1220.80" y1="24.50" x2="1231.20" y2="16.30" stroke="#000" stroke-width="0.9"/>
<line x1="1225.00" y1="24.50" x2="1227.00" y2="16.30" stroke="#000" stroke-width="0.9"/>
<line x1="1220.80" y1="264.30" x2="1231.20" y2="256.10" stroke="#000" stroke-width="0.9"/>
<line x1="1225.00" y1="264.30" x2="1227.00" y2="256.10" stroke="#000" stroke-width="0.9"/>
<text transform="translate(1065.01,15.10) scale(1.0415,1)" font-family='"Liberation Serif", serif' font-size="20.46" fill="#000" >MPEG</text>
<text transform="translate(1004.81,294.10) scale(1.0775,1)" font-family='"Liberation Serif", serif' font-size="20.46" fill="#000" >Size per frame (KB)</text>
<text transform="translate(903.60,182.20) rotate(-90) scale(1.1148,1)" x="-0.76" font-family='"Liberation Serif", serif' font-size="19.08">CD (1e-3)</text>
<rect x="1190.4" y="27" width="101.19999999999982" height="122.1" rx="2.5" ry="2.5" fill="#fff" fill-opacity="0.8" stroke="#cccccc" stroke-width="1"/>
<line x1="1194.7" y1="38.50" x2="1222.8" y2="38.50" stroke="#000000" stroke-width="1.5"/>
<circle cx="1208.80" cy="38.50" r="3.65" fill="#000000" stroke="#000000" stroke-width="1.0"/>
<text transform="translate(1233.44,43.30) scale(1.1367,1)" font-family='"Liberation Serif", serif' font-size="14.66">Draco</text>
<line x1="1194.7" y1="58.10" x2="1222.8" y2="58.10" stroke="#0a680a" stroke-width="1.5"/>
<polygon points="1205.15,54.45 1212.45,58.10 1205.15,61.75" fill="#008000" stroke="#008000" stroke-width="1.0" stroke-linejoin="miter"/>
<text transform="translate(1233.29,62.90) scale(1.0485,1)" font-family='"Liberation Serif", serif' font-size="14.66">G-PCC</text>
<line x1="1194.7" y1="77.70" x2="1222.8" y2="77.70" stroke="#0808d0" stroke-width="1.5"/>
<polygon points="1205.15,74.05 1212.45,74.05 1208.80,81.35" fill="#0000ff" stroke="#0000ff" stroke-width="1.0" stroke-linejoin="miter"/>
<text transform="translate(1232.84,82.50) scale(1.0697,1)" font-family='"Liberation Serif", serif' font-size="14.66">S.PCGC</text>
<line x1="1194.7" y1="97.30" x2="1222.8" y2="97.30" stroke="#f2a000" stroke-width="1.5"/>
<polygon points="1208.80,92.14 1213.96,97.30 1208.80,102.46 1203.64,97.30" fill="#ffa500" stroke="#ffa500" stroke-width="1.0" stroke-linejoin="miter"/>
<text transform="translate(1233.46,102.10) scale(1.0962,1)" font-family='"Liberation Serif", serif' font-size="14.66">NeCGS</text>
<line x1="1194.7" y1="116.90" x2="1222.8" y2="116.90" stroke="#18dce2" stroke-width="1.5"/>
<polygon points="1208.80,111.74 1211.90,116.90 1208.80,122.06 1205.70,116.90" fill="#00ffff" stroke="#00ffff" stroke-width="1.0" stroke-linejoin="miter"/>
<text transform="translate(1233.75,121.70) scale(1.0180,1)" font-family='"Liberation Serif", serif' font-size="14.66">V-DMC</text>
<line x1="1194.7" y1="136.50" x2="1222.8" y2="136.50" stroke="#dc1010" stroke-width="1.5"/>
<polygon points="1206.97,132.85 1208.80,134.68 1210.62,132.85 1212.45,134.68 1210.62,136.50 1212.45,138.32 1210.62,140.15 1208.80,138.32 1206.97,140.15 1205.15,138.32 1206.97,136.50 1205.15,134.68" fill="#ff0000" stroke="#ff0000" stroke-width="1.0" stroke-linejoin="miter"/>
<text transform="translate(1233.22,141.30) scale(1.1597,1)" font-family='"Liberation Serif", serif' font-size="14.66">Ours</text>
<line x1="74.30" y1="370.5" x2="74.30" y2="604.4" stroke="#a8a8a8" stroke-width="0.8" stroke-dasharray="2.3,1.2"/>
<line x1="123.94" y1="370.5" x2="123.94" y2="604.4" stroke="#a8a8a8" stroke-width="0.8" stroke-dasharray="2.3,1.2"/>
<line x1="173.58" y1="370.5" x2="173.58" y2="604.4" stroke="#a8a8a8" stroke-width="0.8" stroke-dasharray="2.3,1.2"/>
<line x1="223.22" y1="370.5" x2="223.22" y2="604.4" stroke="#a8a8a8" stroke-width="0.8" stroke-dasharray="2.3,1.2"/>
<line x1="272.86" y1="370.5" x2="272.86" y2="604.4" stroke="#a8a8a8" stroke-width="0.8" stroke-dasharray="2.3,1.2"/>
<line x1="322.50" y1="370.5" x2="322.50" y2="604.4" stroke="#a8a8a8" stroke-width="0.8" stroke-dasharray="2.3,1.2"/>
<line x1="372.14" y1="370.5" x2="372.14" y2="604.4" stroke="#a8a8a8" stroke-width="0.8" stroke-dasharray="2.3,1.2"/>
<line x1="421.78" y1="370.5" x2="421.78" y2="604.4" stroke="#a8a8a8" stroke-width="0.8" stroke-dasharray="2.3,1.2"/>
<line x1="72.5" y1="576.50" x2="425.2" y2="576.50" stroke="#a8a8a8" stroke-width="0.8" stroke-dasharray="2.3,1.2"/>
<line x1="72.5" y1="544.00" x2="425.2" y2="544.00" stroke="#a8a8a8" stroke-width="0.8" stroke-dasharray="2.3,1.2"/>
<line x1="72.5" y1="511.50" x2="425.2" y2="511.50" stroke="#a8a8a8" stroke-width="0.8" stroke-dasharray="2.3,1.2"/>
<line x1="72.5" y1="479.00" x2="425.2" y2="479.00" stroke="#a8a8a8" stroke-width="0.8" stroke-dasharray="2.3,1.2"/>
<line x1="72.5" y1="446.50" x2="425.2" y2="446.50" stroke="#a8a8a8" stroke-width="0.8" stroke-dasharray="2.3,1.2"/>
<line x1="72.5" y1="414.00" x2="425.2" y2="414.00" stroke="#a8a8a8" stroke-width="0.8" stroke-dasharray="2.3,1.2"/>
<line x1="72.5" y1="381.50" x2="425.2" y2="381.50" stroke="#a8a8a8" stroke-width="0.8" stroke-dasharray="2.3,1.2"/>
<g clip-path="url(#c6)"><polyline points="275.40,650.00 310.10,423.60 356.00,386.30 410.80,379.40" fill="none" stroke="#000000" stroke-width="1.75" stroke-linejoin="round" stroke-linecap="butt"/><circle cx="275.40" cy="650.00" r="3.80" fill="#000000" stroke="#000000" stroke-width="1.2"/><circle cx="310.10" cy="423.60" r="3.80" fill="#000000" stroke="#000000" stroke-width="1.2"/><circle cx="356.00" cy="386.30" r="3.80" fill="#000000" stroke="#000000" stroke-width="1.2"/><circle cx="410.80" cy="379.40" r="3.80" fill="#000000" stroke="#000000" stroke-width="1.2"/></g>
<g clip-path="url(#c6)"><polyline points="132.70,589.60 158.10,507.80 185.70,465.60 248.50,440.60 450.00,412.80" fill="none" stroke="#0a680a" stroke-width="1.75" stroke-linejoin="round" stroke-linecap="butt"/><polygon points="128.90,585.80 136.50,589.60 128.90,593.40" fill="#008000" stroke="#008000" stroke-width="1.2" stroke-linejoin="miter"/><polygon points="154.30,504.00 161.90,507.80 154.30,511.60" fill="#008000" stroke="#008000" stroke-width="1.2" stroke-linejoin="miter"/><polygon points="181.90,461.80 189.50,465.60 181.90,469.40" fill="#008000" stroke="#008000" stroke-width="1.2" stroke-linejoin="miter"/><polygon points="244.70,436.80 252.30,440.60 244.70,444.40" fill="#008000" stroke="#008000" stroke-width="1.2" stroke-linejoin="miter"/><polygon points="446.20,409.00 453.80,412.80 446.20,416.60" fill="#008000" stroke="#008000" stroke-width="1.2" stroke-linejoin="miter"/></g>
<g clip-path="url(#c6)"><polyline points="133.70,543.30 165.10,502.10 256.40,454.80 378.50,443.90 450.00,441.20" fill="none" stroke="#0808d0" stroke-width="1.75" stroke-linejoin="round" stroke-linecap="butt"/><polygon points="129.90,539.50 137.50,539.50 133.70,547.10" fill="#0000ff" stroke="#0000ff" stroke-width="1.2" stroke-linejoin="miter"/><polygon points="161.30,498.30 168.90,498.30 165.10,505.90" fill="#0000ff" stroke="#0000ff" stroke-width="1.2" stroke-linejoin="miter"/><polygon points="252.60,451.00 260.20,451.00 256.40,458.60" fill="#0000ff" stroke="#0000ff" stroke-width="1.2" stroke-linejoin="miter"/><polygon points="374.70,440.10 382.30,440.10 378.50,447.70" fill="#0000ff" stroke="#0000ff" stroke-width="1.2" stroke-linejoin="miter"/><polygon points="446.20,437.40 453.80,437.40 450.00,445.00" fill="#0000ff" stroke="#0000ff" stroke-width="1.2" stroke-linejoin="miter"/></g>
<g clip-path="url(#c6)"><polyline points="110.80,590.80 124.20,527.40 146.40,493.50" fill="none" stroke="#f2a000" stroke-width="1.75" stroke-linejoin="round" stroke-linecap="butt"/><polygon points="110.80,585.43 116.17,590.80 110.80,596.17 105.43,590.80" fill="#ffa500" stroke="#ffa500" stroke-width="1.2" stroke-linejoin="miter"/><polygon points="124.20,522.03 129.57,527.40 124.20,532.77 118.83,527.40" fill="#ffa500" stroke="#ffa500" stroke-width="1.2" stroke-linejoin="miter"/><polygon points="146.40,488.13 151.77,493.50 146.40,498.87 141.03,493.50" fill="#ffa500" stroke="#ffa500" stroke-width="1.2" stroke-linejoin="miter"/></g>
<g clip-path="url(#c6)"><polyline points="127.30,466.60 142.30,444.40 166.10,422.20 179.40,416.50 280.40,395.40 310.10,393.70 355.10,391.50 408.70,391.10" fill="none" stroke="#dc1010" stroke-width="1.75" stroke-linejoin="round" stroke-linecap="butt"/><polygon points="125.40,462.80 127.30,464.70 129.20,462.80 131.10,464.70 129.20,466.60 131.10,468.50 129.20,470.40 127.30,468.50 125.40,470.40 123.50,468.50 125.40,466.60 123.50,464.70" fill="#ff0000" stroke="#ff0000" stroke-width="1.2" stroke-linejoin="miter"/><polygon points="140.40,440.60 142.30,442.50 144.20,440.60 146.10,442.50 144.20,444.40 146.10,446.30 144.20,448.20 142.30,446.30 140.40,448.20 138.50,446.30 140.40,444.40 138.50,442.50" fill="#ff0000" stroke="#ff0000" stroke-width="1.2" stroke-linejoin="miter"/><polygon points="164.20,418.40 166.10,420.30 168.00,418.40 169.90,420.30 168.00,422.20 169.90,424.10 168.00,426.00 166.10,424.10 164.20,426.00 162.30,424.10 164.20,422.20 162.30,420.30" fill="#ff0000" stroke="#ff0000" stroke-width="1.2" stroke-linejoin="miter"/><polygon points="177.50,412.70 179.40,414.60 181.30,412.70 183.20,414.60 181.30,416.50 183.20,418.40 181.30,420.30 179.40,418.40 177.50,420.30 175.60,418.40 177.50,416.50 175.60,414.60" fill="#ff0000" stroke="#ff0000" stroke-width="1.2" stroke-linejoin="miter"/><polygon points="278.50,391.60 280.40,393.50 282.30,391.60 284.20,393.50 282.30,395.40 284.20,397.30 282.30,399.20 280.40,397.30 278.50,399.20 276.60,397.30 278.50,395.40 276.60,393.50" fill="#ff0000" stroke="#ff0000" stroke-width="1.2" stroke-linejoin="miter"/><polygon points="308.20,389.90 310.10,391.80 312.00,389.90 313.90,391.80 312.00,393.70 313.90,395.60 312.00,397.50 310.10,395.60 308.20,397.50 306.30,395.60 308.20,393.70 306.30,391.80" fill="#ff0000" stroke="#ff0000" stroke-width="1.2" stroke-linejoin="miter"/><polygon points="353.20,387.70 355.10,389.60 357.00,387.70 358.90,389.60 357.00,391.50 358.90,393.40 357.00,395.30 355.10,393.40 353.20,395.30 351.30,393.40 353.20,391.50 351.30,389.60" fill="#ff0000" stroke="#ff0000" stroke-width="1.2" stroke-linejoin="miter"/><polygon points="406.80,387.30 408.70,389.20 410.60,387.30 412.50,389.20 410.60,391.10 412.50,393.00 410.60,394.90 408.70,393.00 406.80,394.90 404.90,393.00 406.80,391.10 404.90,389.20" fill="#ff0000" stroke="#ff0000" stroke-width="1.2" stroke-linejoin="miter"/></g>
<rect x="72.5" y="370.5" width="352.7" height="233.89999999999998" fill="none" stroke="#000" stroke-width="1.1"/>
<line x1="74.30" y1="604.4" x2="74.30" y2="607.0" stroke="#000" stroke-width="1"/>
<line x1="123.94" y1="604.4" x2="123.94" y2="607.0" stroke="#000" stroke-width="1"/>
<line x1="173.58" y1="604.4" x2="173.58" y2="607.0" stroke="#000" stroke-width="1"/>
<line x1="223.22" y1="604.4" x2="223.22" y2="607.0" stroke="#000" stroke-width="1"/>
<line x1="272.86" y1="604.4" x2="272.86" y2="607.0" stroke="#000" stroke-width="1"/>
<line x1="322.50" y1="604.4" x2="322.50" y2="607.0" stroke="#000" stroke-width="1"/>
<line x1="372.14" y1="604.4" x2="372.14" y2="607.0" stroke="#000" stroke-width="1"/>
<line x1="421.78" y1="604.4" x2="421.78" y2="607.0" stroke="#000" stroke-width="1"/>
<line x1="69.9" y1="576.50" x2="72.5" y2="576.50" stroke="#000" stroke-width="1"/>
<line x1="69.9" y1="544.00" x2="72.5" y2="544.00" stroke="#000" stroke-width="1"/>
<line x1="69.9" y1="511.50" x2="72.5" y2="511.50" stroke="#000" stroke-width="1"/>
<line x1="69.9" y1="479.00" x2="72.5" y2="479.00" stroke="#000" stroke-width="1"/>
<line x1="69.9" y1="446.50" x2="72.5" y2="446.50" stroke="#000" stroke-width="1"/>
<line x1="69.9" y1="414.00" x2="72.5" y2="414.00" stroke="#000" stroke-width="1"/>
<line x1="69.9" y1="381.50" x2="72.5" y2="381.50" stroke="#000" stroke-width="1"/>
<text transform="translate(22.10,582.85) scale(1.1197,1)" font-family='"Liberation Sans", sans-serif' font-size="16.50">0.625</text>
<text transform="translate(21.77,550.35) scale(1.1268,1)" font-family='"Liberation Sans", sans-serif' font-size="16.50">0.650</text>
<text transform="translate(22.10,517.85) scale(1.1197,1)" font-family='"Liberation Sans", sans-serif' font-size="16.50">0.675</text>
<text transform="translate(21.77,485.35) scale(1.1268,1)" font-family='"Liberation Sans", sans-serif' font-size="16.50">0.700</text>
<text transform="translate(22.10,452.85) scale(1.1197,1)" font-family='"Liberation Sans", sans-serif' font-size="16.50">0.725</text>
<text transform="translate(21.77,420.35) scale(1.1268,1)" font-family='"Liberation Sans", sans-serif' font-size="16.50">0.750</text>
<text transform="translate(22.10,387.85) scale(1.1197,1)" font-family='"Liberation Sans", sans-serif' font-size="16.50">0.775</text>
<text transform="translate(69.44,619.91) scale(1.0576,1)" font-family='"Liberation Sans", sans-serif' font-size="16.50">0</text>
<text transform="translate(119.26,619.91) scale(1.0220,1)" font-family='"Liberation Sans", sans-serif' font-size="16.50">2</text>
<text transform="translate(168.80,619.91) scale(1.0545,1)" font-family='"Liberation Sans", sans-serif' font-size="16.50">4</text>
<text transform="translate(218.18,619.91) scale(1.0865,1)" font-family='"Liberation Sans", sans-serif' font-size="16.50">6</text>
<text transform="translate(267.99,619.91) scale(1.0638,1)" font-family='"Liberation Sans", sans-serif' font-size="16.50">8</text>
<text transform="translate(312.08,619.91) scale(1.1003,1)" font-family='"Liberation Sans", sans-serif' font-size="16.50">10</text>
<text transform="translate(362.02,619.91) scale(1.0812,1)" font-family='"Liberation Sans", sans-serif' font-size="16.50">12</text>
<text transform="translate(411.28,619.91) scale(1.0993,1)" font-family='"Liberation Sans", sans-serif' font-size="16.50">14</text>
<text transform="translate(219.59,366.90) scale(1.0917,1)" font-family='"Liberation Serif", serif' font-size="20.46" fill="#000" >Mixed</text>
<text transform="translate(143.05,641.10) scale(1.0740,1)" font-family='"Liberation Serif", serif' font-size="24.12" fill="#000" >Size per frame (KB)</text>
<text transform="translate(15.60,525.50) rotate(-90) scale(1.0978,1)" x="-0.62" font-family='"Liberation Serif", serif' font-size="22.44">F-Score</text>
<line x1="513.60" y1="370.1" x2="513.60" y2="609.5" stroke="#a8a8a8" stroke-width="0.8" stroke-dasharray="1.9,1.3"/>
<line x1="586.70" y1="370.1" x2="586.70" y2="609.5" stroke="#a8a8a8" stroke-width="0.8" stroke-dasharray="1.9,1.3"/>
<line x1="659.80" y1="370.1" x2="659.80" y2="609.5" stroke="#a8a8a8" stroke-width="0.8" stroke-dasharray="1.9,1.3"/>
<line x1="732.90" y1="370.1" x2="732.90" y2="609.5" stroke="#a8a8a8" stroke-width="0.8" stroke-dasharray="1.9,1.3"/>
<line x1="806.00" y1="370.1" x2="806.00" y2="609.5" stroke="#a8a8a8" stroke-width="0.8" stroke-dasharray="1.9,1.3"/>
<line x1="837.40" y1="370.1" x2="837.40" y2="609.5" stroke="#a8a8a8" stroke-width="0.8" stroke-dasharray="1.9,1.3"/>
<line x1="864.60" y1="370.1" x2="864.60" y2="609.5" stroke="#a8a8a8" stroke-width="0.8" stroke-dasharray="1.9,1.3"/>
<line x1="512.7" y1="579.30" x2="879.5" y2="579.30" stroke="#a8a8a8" stroke-width="0.8" stroke-dasharray="1.9,1.3"/>
<line x1="512.7" y1="542.66" x2="879.5" y2="542.66" stroke="#a8a8a8" stroke-width="0.8" stroke-dasharray="1.9,1.3"/>
<line x1="512.7" y1="506.02" x2="879.5" y2="506.02" stroke="#a8a8a8" stroke-width="0.8" stroke-dasharray="1.9,1.3"/>
<line x1="512.7" y1="469.38" x2="879.5" y2="469.38" stroke="#a8a8a8" stroke-width="0.8" stroke-dasharray="1.9,1.3"/>
<line x1="512.7" y1="432.74" x2="879.5" y2="432.74" stroke="#a8a8a8" stroke-width="0.8" stroke-dasharray="1.9,1.3"/>
<line x1="512.7" y1="396.10" x2="879.5" y2="396.10" stroke="#a8a8a8" stroke-width="0.8" stroke-dasharray="1.9,1.3"/>
<g clip-path="url(#c7)"><polyline points="549.50,650.00 557.00,574.20 580.90,513.50 658.70,443.70 722.70,426.00" fill="none" stroke="#0a680a" stroke-width="1.5" stroke-linejoin="round" stroke-linecap="butt"/><polygon points="545.85,646.35 553.15,650.00 545.85,653.65" fill="#008000" stroke="#008000" stroke-width="1.0" stroke-linejoin="miter"/><polygon points="553.35,570.55 560.65,574.20 553.35,577.85" fill="#008000" stroke="#008000" stroke-width="1.0" stroke-linejoin="miter"/><polygon points="577.25,509.85 584.55,513.50 577.25,517.15" fill="#008000" stroke="#008000" stroke-width="1.0" stroke-linejoin="miter"/><polygon points="655.05,440.05 662.35,443.70 655.05,447.35" fill="#008000" stroke="#008000" stroke-width="1.0" stroke-linejoin="miter"/><polygon points="719.05,422.35 726.35,426.00 719.05,429.65" fill="#008000" stroke="#008000" stroke-width="1.0" stroke-linejoin="miter"/></g>
<g clip-path="url(#c7)"><polyline points="560.00,625.90 607.70,605.30 680.20,433.30 900.00,425.60" fill="none" stroke="#0808d0" stroke-width="1.5" stroke-linejoin="round" stroke-linecap="butt"/><polygon points="556.35,622.25 563.65,622.25 560.00,629.55" fill="#0000ff" stroke="#0000ff" stroke-width="1.0" stroke-linejoin="miter"/><polygon points="604.05,601.65 611.35,601.65 607.70,608.95" fill="#0000ff" stroke="#0000ff" stroke-width="1.0" stroke-linejoin="miter"/><polygon points="676.55,429.65 683.85,429.65 680.20,436.95" fill="#0000ff" stroke="#0000ff" stroke-width="1.0" stroke-linejoin="miter"/><polygon points="896.35,421.95 903.65,421.95 900.00,429.25" fill="#0000ff" stroke="#0000ff" stroke-width="1.0" stroke-linejoin="miter"/></g>
<g clip-path="url(#c7)"><polyline points="542.00,582.40 557.70,545.70 580.90,521.20" fill="none" stroke="#f2a000" stroke-width="1.5" stroke-linejoin="round" stroke-linecap="butt"/><polygon points="542.00,577.24 547.16,582.40 542.00,587.56 536.84,582.40" fill="#ffa500" stroke="#ffa500" stroke-width="1.0" stroke-linejoin="miter"/><polygon points="557.70,540.54 562.86,545.70 557.70,550.86 552.54,545.70" fill="#ffa500" stroke="#ffa500" stroke-width="1.0" stroke-linejoin="miter"/><polygon points="580.90,516.04 586.06,521.20 580.90,526.36 575.74,521.20" fill="#ffa500" stroke="#ffa500" stroke-width="1.0" stroke-linejoin="miter"/></g>
<g clip-path="url(#c7)"><polyline points="543.70,464.60 552.40,428.00 564.70,420.80 581.00,396.10 628.60,389.70 661.20,385.60 772.80,380.90" fill="none" stroke="#dc1010" stroke-width="1.5" stroke-linejoin="round" stroke-linecap="butt"/><polygon points="541.88,460.95 543.70,462.78 545.53,460.95 547.35,462.78 545.53,464.60 547.35,466.43 545.53,468.25 543.70,466.43 541.88,468.25 540.05,466.43 541.88,464.60 540.05,462.78" fill="#ff0000" stroke="#ff0000" stroke-width="1.0" stroke-linejoin="miter"/><polygon points="550.57,424.35 552.40,426.18 554.23,424.35 556.05,426.18 554.23,428.00 556.05,429.82 554.23,431.65 552.40,429.82 550.57,431.65 548.75,429.82 550.57,428.00 548.75,426.18" fill="#ff0000" stroke="#ff0000" stroke-width="1.0" stroke-linejoin="miter"/><polygon points="562.88,417.15 564.70,418.98 566.53,417.15 568.35,418.98 566.53,420.80 568.35,422.62 566.53,424.45 564.70,422.62 562.88,424.45 561.05,422.62 562.88,420.80 561.05,418.98" fill="#ff0000" stroke="#ff0000" stroke-width="1.0" stroke-linejoin="miter"/><polygon points="579.17,392.45 581.00,394.28 582.83,392.45 584.65,394.28 582.83,396.10 584.65,397.93 582.83,399.75 581.00,397.93 579.17,399.75 577.35,397.93 579.17,396.10 577.35,394.28" fill="#ff0000" stroke="#ff0000" stroke-width="1.0" stroke-linejoin="miter"/><polygon points="626.77,386.05 628.60,387.88 630.43,386.05 632.25,387.88 630.43,389.70 632.25,391.52 630.43,393.35 628.60,391.52 626.77,393.35 624.95,391.52 626.77,389.70 624.95,387.88" fill="#ff0000" stroke="#ff0000" stroke-width="1.0" stroke-linejoin="miter"/><polygon points="659.38,381.95 661.20,383.78 663.03,381.95 664.85,383.78 663.03,385.60 664.85,387.43 663.03,389.25 661.20,387.43 659.38,389.25 657.55,387.43 659.38,385.60 657.55,383.78" fill="#ff0000" stroke="#ff0000" stroke-width="1.0" stroke-linejoin="miter"/><polygon points="770.97,377.25 772.80,379.07 774.62,377.25 776.45,379.07 774.62,380.90 776.45,382.72 774.62,384.55 772.80,382.72 770.97,384.55 769.15,382.72 770.97,380.90 769.15,379.07" fill="#ff0000" stroke="#ff0000" stroke-width="1.0" stroke-linejoin="miter"/></g>
<g clip-path="url(#c8)"><polyline points="836.50,650.00 838.90,462.40 857.10,395.00 863.80,383.20" fill="none" stroke="#000000" stroke-width="1.5" stroke-linejoin="round" stroke-linecap="butt"/><circle cx="836.50" cy="650.00" r="3.65" fill="#000000" stroke="#000000" stroke-width="1.0"/><circle cx="838.90" cy="462.40" r="3.65" fill="#000000" stroke="#000000" stroke-width="1.0"/><circle cx="857.10" cy="395.00" r="3.65" fill="#000000" stroke="#000000" stroke-width="1.0"/><circle cx="863.80" cy="383.20" r="3.65" fill="#000000" stroke="#000000" stroke-width="1.0"/></g>
<path d="M512.7,370.1 H879.5 V609.5 H512.7 Z" fill="none" stroke="#000" stroke-width="1.1"/>
<line x1="513.60" y1="609.5" x2="513.60" y2="611.5" stroke="#000" stroke-width="1"/>
<line x1="586.70" y1="609.5" x2="586.70" y2="611.5" stroke="#000" stroke-width="1"/>
<line x1="659.80" y1="609.5" x2="659.80" y2="611.5" stroke="#000" stroke-width="1"/>
<line x1="732.90" y1="609.5" x2="732.90" y2="611.5" stroke="#000" stroke-width="1"/>
<line x1="806.00" y1="609.5" x2="806.00" y2="611.5" stroke="#000" stroke-width="1"/>
<line x1="837.40" y1="609.5" x2="837.40" y2="611.5" stroke="#000" stroke-width="1"/>
<line x1="864.60" y1="609.5" x2="864.60" y2="611.5" stroke="#000" stroke-width="1"/>
<line x1="510.70000000000005" y1="579.30" x2="512.7" y2="579.30" stroke="#000" stroke-width="1"/>
<line x1="510.70000000000005" y1="542.66" x2="512.7" y2="542.66" stroke="#000" stroke-width="1"/>
<line x1="510.70000000000005" y1="506.02" x2="512.7" y2="506.02" stroke="#000" stroke-width="1"/>
<line x1="510.70000000000005" y1="469.38" x2="512.7" y2="469.38" stroke="#000" stroke-width="1"/>
<line x1="510.70000000000005" y1="432.74" x2="512.7" y2="432.74" stroke="#000" stroke-width="1"/>
<line x1="510.70000000000005" y1="396.10" x2="512.7" y2="396.10" stroke="#000" stroke-width="1"/>
<line x1="805.0" y1="579.30" x2="807.0" y2="579.30" stroke="#000" stroke-width="1"/>
<line x1="805.0" y1="542.66" x2="807.0" y2="542.66" stroke="#000" stroke-width="1"/>
<line x1="805.0" y1="506.02" x2="807.0" y2="506.02" stroke="#000" stroke-width="1"/>
<line x1="805.0" y1="469.38" x2="807.0" y2="469.38" stroke="#000" stroke-width="1"/>
<line x1="805.0" y1="432.74" x2="807.0" y2="432.74" stroke="#000" stroke-width="1"/>
<line x1="805.0" y1="396.10" x2="807.0" y2="396.10" stroke="#000" stroke-width="1"/>
<text transform="translate(467.34,585.27) scale(1.0902,1)" font-family='"Liberation Sans", sans-serif' font-size="15.41">0.625</text>
<text transform="translate(467.04,548.63) scale(1.0971,1)" font-family='"Liberation Sans", sans-serif' font-size="15.41">0.650</text>
<text transform="translate(467.34,511.99) scale(1.0902,1)" font-family='"Liberation Sans", sans-serif' font-size="15.41">0.675</text>
<text transform="translate(467.04,475.35) scale(1.0971,1)" font-family='"Liberation Sans", sans-serif' font-size="15.41">0.700</text>
<text transform="translate(467.34,438.71) scale(1.0902,1)" font-family='"Liberation Sans", sans-serif' font-size="15.41">0.725</text>
<text transform="translate(467.04,402.07) scale(1.0971,1)" font-family='"Liberation Sans", sans-serif' font-size="15.41">0.750</text>
<text transform="translate(509.18,622.95) scale(1.0297,1)" font-family='"Liberation Sans", sans-serif' font-size="15.41">0</text>
<text transform="translate(582.56,622.95) scale(0.9685,1)" font-family='"Liberation Sans", sans-serif' font-size="15.41">5</text>
<text transform="translate(650.33,622.95) scale(1.0712,1)" font-family='"Liberation Sans", sans-serif' font-size="15.41">10</text>
<text transform="translate(723.60,622.95) scale(1.0544,1)" font-family='"Liberation Sans", sans-serif' font-size="15.41">15</text>
<text transform="translate(796.65,622.95) scale(1.0807,1)" font-family='"Liberation Sans", sans-serif' font-size="15.41">20</text>
<text transform="translate(828.33,622.95) scale(1.0756,1)" font-family='"Liberation Sans", sans-serif' font-size="15.41">40</text>
<text transform="translate(855.23,622.95) scale(1.0831,1)" font-family='"Liberation Sans", sans-serif' font-size="15.41">60</text>
<line x1="800.80" y1="374.20" x2="811.20" y2="366.00" stroke="#000" stroke-width="0.9"/>
<line x1="805.00" y1="374.20" x2="807.00" y2="366.00" stroke="#000" stroke-width="0.9"/>
<line x1="800.80" y1="613.60" x2="811.20" y2="605.40" stroke="#000" stroke-width="0.9"/>
<line x1="805.00" y1="613.60" x2="807.00" y2="605.40" stroke="#000" stroke-width="0.9"/>
<text transform="translate(620.97,364.70) scale(1.1813,1)" font-family='"Liberation Serif", serif' font-size="20.46" fill="#000" >ShapeNet</text>
<text transform="translate(578.61,643.10) scale(1.0775,1)" font-family='"Liberation Serif", serif' font-size="20.46" fill="#000" >Size per frame (KB)</text>
<text transform="translate(462.10,523.30) rotate(-90) scale(1.1307,1)" x="-0.52" font-family='"Liberation Serif", serif' font-size="19.08">F-Score</text>
<line x1="949.20" y1="370.3" x2="949.20" y2="609.3" stroke="#a8a8a8" stroke-width="0.8" stroke-dasharray="1.9,1.3"/>
<line x1="1022.50" y1="370.3" x2="1022.50" y2="609.3" stroke="#a8a8a8" stroke-width="0.8" stroke-dasharray="1.9,1.3"/>
<line x1="1095.80" y1="370.3" x2="1095.80" y2="609.3" stroke="#a8a8a8" stroke-width="0.8" stroke-dasharray="1.9,1.3"/>
<line x1="1169.10" y1="370.3" x2="1169.10" y2="609.3" stroke="#a8a8a8" stroke-width="0.8" stroke-dasharray="1.9,1.3"/>
<line x1="1270.60" y1="370.3" x2="1270.60" y2="609.3" stroke="#a8a8a8" stroke-width="0.8" stroke-dasharray="1.9,1.3"/>
<line x1="947.8" y1="605.50" x2="1316.5" y2="605.50" stroke="#a8a8a8" stroke-width="0.8" stroke-dasharray="1.9,1.3"/>
<line x1="947.8" y1="564.70" x2="1316.5" y2="564.70" stroke="#a8a8a8" stroke-width="0.8" stroke-dasharray="1.9,1.3"/>
<line x1="947.8" y1="523.90" x2="1316.5" y2="523.90" stroke="#a8a8a8" stroke-width="0.8" stroke-dasharray="1.9,1.3"/>
<line x1="947.8" y1="483.10" x2="1316.5" y2="483.10" stroke="#a8a8a8" stroke-width="0.8" stroke-dasharray="1.9,1.3"/>
<line x1="947.8" y1="442.30" x2="1316.5" y2="442.30" stroke="#a8a8a8" stroke-width="0.8" stroke-dasharray="1.9,1.3"/>
<line x1="947.8" y1="401.50" x2="1316.5" y2="401.50" stroke="#a8a8a8" stroke-width="0.8" stroke-dasharray="1.9,1.3"/>
<g clip-path="url(#c9)"><polyline points="989.80,650.00 1002.40,521.60 1020.60,458.90 1061.60,435.50 1171.60,406.00 1300.00,406.50" fill="none" stroke="#0a680a" stroke-width="1.5" stroke-linejoin="round" stroke-linecap="butt"/><polygon points="986.15,646.35 993.45,650.00 986.15,653.65" fill="#008000" stroke="#008000" stroke-width="1.0" stroke-linejoin="miter"/><polygon points="998.75,517.95 1006.05,521.60 998.75,525.25" fill="#008000" stroke="#008000" stroke-width="1.0" stroke-linejoin="miter"/><polygon points="1016.95,455.25 1024.25,458.90 1016.95,462.55" fill="#008000" stroke="#008000" stroke-width="1.0" stroke-linejoin="miter"/><polygon points="1057.95,431.85 1065.25,435.50 1057.95,439.15" fill="#008000" stroke="#008000" stroke-width="1.0" stroke-linejoin="miter"/><polygon points="1167.95,402.35 1175.25,406.00 1167.95,409.65" fill="#008000" stroke="#008000" stroke-width="1.0" stroke-linejoin="miter"/><polygon points="1296.35,402.85 1303.65,406.50 1296.35,410.15" fill="#008000" stroke="#008000" stroke-width="1.0" stroke-linejoin="miter"/></g>
<g clip-path="url(#c9)"><polyline points="977.20,578.80 988.50,480.20 1034.30,426.50 1077.50,414.30 1230.50,410.40" fill="none" stroke="#0808d0" stroke-width="1.5" stroke-linejoin="round" stroke-linecap="butt"/><polygon points="973.55,575.15 980.85,575.15 977.20,582.45" fill="#0000ff" stroke="#0000ff" stroke-width="1.0" stroke-linejoin="miter"/><polygon points="984.85,476.55 992.15,476.55 988.50,483.85" fill="#0000ff" stroke="#0000ff" stroke-width="1.0" stroke-linejoin="miter"/><polygon points="1030.65,422.85 1037.95,422.85 1034.30,430.15" fill="#0000ff" stroke="#0000ff" stroke-width="1.0" stroke-linejoin="miter"/><polygon points="1073.85,410.65 1081.15,410.65 1077.50,417.95" fill="#0000ff" stroke="#0000ff" stroke-width="1.0" stroke-linejoin="miter"/><polygon points="1226.85,406.75 1234.15,406.75 1230.50,414.05" fill="#0000ff" stroke="#0000ff" stroke-width="1.0" stroke-linejoin="miter"/></g>
<g clip-path="url(#c9)"><polyline points="977.40,599.40 991.20,546.40 1016.00,524.10" fill="none" stroke="#f2a000" stroke-width="1.5" stroke-linejoin="round" stroke-linecap="butt"/><polygon points="977.40,594.24 982.56,599.40 977.40,604.56 972.24,599.40" fill="#ffa500" stroke="#ffa500" stroke-width="1.0" stroke-linejoin="miter"/><polygon points="991.20,541.24 996.36,546.40 991.20,551.56 986.04,546.40" fill="#ffa500" stroke="#ffa500" stroke-width="1.0" stroke-linejoin="miter"/><polygon points="1016.00,518.94 1021.16,524.10 1016.00,529.26 1010.84,524.10" fill="#ffa500" stroke="#ffa500" stroke-width="1.0" stroke-linejoin="miter"/></g>
<g clip-path="url(#c9)"><polyline points="991.50,650.00 1001.50,495.50 1004.60,466.10 1011.20,436.70 1034.90,406.50 1053.80,400.80 1154.30,386.90" fill="none" stroke="#18dce2" stroke-width="1.5" stroke-linejoin="round" stroke-linecap="butt"/><polygon points="991.50,644.84 994.60,650.00 991.50,655.16 988.40,650.00" fill="#00ffff" stroke="#00ffff" stroke-width="1.0" stroke-linejoin="miter"/><polygon points="1001.50,490.34 1004.60,495.50 1001.50,500.66 998.40,495.50" fill="#00ffff" stroke="#00ffff" stroke-width="1.0" stroke-linejoin="miter"/><polygon points="1004.60,460.94 1007.70,466.10 1004.60,471.26 1001.50,466.10" fill="#00ffff" stroke="#00ffff" stroke-width="1.0" stroke-linejoin="miter"/><polygon points="1011.20,431.54 1014.30,436.70 1011.20,441.86 1008.10,436.70" fill="#00ffff" stroke="#00ffff" stroke-width="1.0" stroke-linejoin="miter"/><polygon points="1034.90,401.34 1038.00,406.50 1034.90,411.66 1031.80,406.50" fill="#00ffff" stroke="#00ffff" stroke-width="1.0" stroke-linejoin="miter"/><polygon points="1053.80,395.64 1056.90,400.80 1053.80,405.96 1050.70,400.80" fill="#00ffff" stroke="#00ffff" stroke-width="1.0" stroke-linejoin="miter"/><polygon points="1154.30,381.74 1157.40,386.90 1154.30,392.06 1151.20,386.90" fill="#00ffff" stroke="#00ffff" stroke-width="1.0" stroke-linejoin="miter"/></g>
<g clip-path="url(#c9)"><polyline points="970.40,575.40 976.20,536.70 987.30,460.70 996.60,441.10 1032.20,400.90 1053.30,396.50 1092.40,389.90 1130.60,388.70" fill="none" stroke="#dc1010" stroke-width="1.5" stroke-linejoin="round" stroke-linecap="butt"/><polygon points="968.57,571.75 970.40,573.57 972.23,571.75 974.05,573.57 972.23,575.40 974.05,577.23 972.23,579.05 970.40,577.23 968.57,579.05 966.75,577.23 968.57,575.40 966.75,573.57" fill="#ff0000" stroke="#ff0000" stroke-width="1.0" stroke-linejoin="miter"/><polygon points="974.38,533.05 976.20,534.88 978.03,533.05 979.85,534.88 978.03,536.70 979.85,538.53 978.03,540.35 976.20,538.53 974.38,540.35 972.55,538.53 974.38,536.70 972.55,534.88" fill="#ff0000" stroke="#ff0000" stroke-width="1.0" stroke-linejoin="miter"/><polygon points="985.47,457.05 987.30,458.88 989.12,457.05 990.95,458.88 989.12,460.70 990.95,462.52 989.12,464.35 987.30,462.52 985.47,464.35 983.65,462.52 985.47,460.70 983.65,458.88" fill="#ff0000" stroke="#ff0000" stroke-width="1.0" stroke-linejoin="miter"/><polygon points="994.77,437.45 996.60,439.28 998.43,437.45 1000.25,439.28 998.43,441.10 1000.25,442.93 998.43,444.75 996.60,442.93 994.77,444.75 992.95,442.93 994.77,441.10 992.95,439.28" fill="#ff0000" stroke="#ff0000" stroke-width="1.0" stroke-linejoin="miter"/><polygon points="1030.38,397.25 1032.20,399.07 1034.03,397.25 1035.85,399.07 1034.03,400.90 1035.85,402.72 1034.03,404.55 1032.20,402.72 1030.38,404.55 1028.55,402.72 1030.38,400.90 1028.55,399.07" fill="#ff0000" stroke="#ff0000" stroke-width="1.0" stroke-linejoin="miter"/><polygon points="1051.47,392.85 1053.30,394.68 1055.12,392.85 1056.95,394.68 1055.12,396.50 1056.95,398.32 1055.12,400.15 1053.30,398.32 1051.47,400.15 1049.65,398.32 1051.47,396.50 1049.65,394.68" fill="#ff0000" stroke="#ff0000" stroke-width="1.0" stroke-linejoin="miter"/><polygon points="1090.58,386.25 1092.40,388.07 1094.23,386.25 1096.05,388.07 1094.23,389.90 1096.05,391.72 1094.23,393.55 1092.40,391.72 1090.58,393.55 1088.75,391.72 1090.58,389.90 1088.75,388.07" fill="#ff0000" stroke="#ff0000" stroke-width="1.0" stroke-linejoin="miter"/><polygon points="1128.77,385.05 1130.60,386.88 1132.42,385.05 1134.25,386.88 1132.42,388.70 1134.25,390.52 1132.42,392.35 1130.60,390.52 1128.77,392.35 1126.95,390.52 1128.77,388.70 1126.95,386.88" fill="#ff0000" stroke="#ff0000" stroke-width="1.0" stroke-linejoin="miter"/></g>
<g clip-path="url(#c10)"><polyline points="1273.50,650.00 1274.70,447.30 1282.70,398.00 1304.90,389.30" fill="none" stroke="#000000" stroke-width="1.5" stroke-linejoin="round" stroke-linecap="butt"/><circle cx="1273.50" cy="650.00" r="3.65" fill="#000000" stroke="#000000" stroke-width="1.0"/><circle cx="1274.70" cy="447.30" r="3.65" fill="#000000" stroke="#000000" stroke-width="1.0"/><circle cx="1282.70" cy="398.00" r="3.65" fill="#000000" stroke="#000000" stroke-width="1.0"/><circle cx="1304.90" cy="389.30" r="3.65" fill="#000000" stroke="#000000" stroke-width="1.0"/></g>
<path d="M947.8,370.3 H1316.5 V609.3 H947.8 Z" fill="none" stroke="#000" stroke-width="1.1"/>
<line x1="949.20" y1="609.3" x2="949.20" y2="611.3" stroke="#000" stroke-width="1"/>
<line x1="1022.50" y1="609.3" x2="1022.50" y2="611.3" stroke="#000" stroke-width="1"/>
<line x1="1095.80" y1="609.3" x2="1095.80" y2="611.3" stroke="#000" stroke-width="1"/>
<line x1="1169.10" y1="609.3" x2="1169.10" y2="611.3" stroke="#000" stroke-width="1"/>
<line x1="1242.40" y1="609.3" x2="1242.40" y2="611.3" stroke="#000" stroke-width="1"/>
<line x1="1270.60" y1="609.3" x2="1270.60" y2="611.3" stroke="#000" stroke-width="1"/>
<line x1="1316.30" y1="609.3" x2="1316.30" y2="611.3" stroke="#000" stroke-width="1"/>
<line x1="945.8" y1="605.50" x2="947.8" y2="605.50" stroke="#000" stroke-width="1"/>
<line x1="945.8" y1="564.70" x2="947.8" y2="564.70" stroke="#000" stroke-width="1"/>
<line x1="945.8" y1="523.90" x2="947.8" y2="523.90" stroke="#000" stroke-width="1"/>
<line x1="945.8" y1="483.10" x2="947.8" y2="483.10" stroke="#000" stroke-width="1"/>
<line x1="945.8" y1="442.30" x2="947.8" y2="442.30" stroke="#000" stroke-width="1"/>
<line x1="945.8" y1="401.50" x2="947.8" y2="401.50" stroke="#000" stroke-width="1"/>
<line x1="1241.4" y1="605.50" x2="1243.4" y2="605.50" stroke="#000" stroke-width="1"/>
<line x1="1241.4" y1="564.70" x2="1243.4" y2="564.70" stroke="#000" stroke-width="1"/>
<line x1="1241.4" y1="523.90" x2="1243.4" y2="523.90" stroke="#000" stroke-width="1"/>
<line x1="1241.4" y1="483.10" x2="1243.4" y2="483.10" stroke="#000" stroke-width="1"/>
<line x1="1241.4" y1="442.30" x2="1243.4" y2="442.30" stroke="#000" stroke-width="1"/>
<line x1="1241.4" y1="401.50" x2="1243.4" y2="401.50" stroke="#000" stroke-width="1"/>
<text transform="translate(912.30,611.47) scale(1.0825,1)" font-family='"Liberation Sans", sans-serif' font-size="15.41">0.82</text>
<text transform="translate(911.65,570.67) scale(1.0916,1)" font-family='"Liberation Sans", sans-serif' font-size="15.41">0.84</text>
<text transform="translate(911.76,529.87) scale(1.0965,1)" font-family='"Liberation Sans", sans-serif' font-size="15.41">0.86</text>
<text transform="translate(911.84,489.07) scale(1.0939,1)" font-family='"Liberation Sans", sans-serif' font-size="15.41">0.88</text>
<text transform="translate(911.80,448.27) scale(1.0922,1)" font-family='"Liberation Sans", sans-serif' font-size="15.41">0.90</text>
<text transform="translate(912.30,407.47) scale(1.0825,1)" font-family='"Liberation Sans", sans-serif' font-size="15.41">0.92</text>
<text transform="translate(944.78,622.95) scale(1.0297,1)" font-family='"Liberation Sans", sans-serif' font-size="15.41">0</text>
<text transform="translate(1018.36,622.95) scale(0.9685,1)" font-family='"Liberation Sans", sans-serif' font-size="15.41">5</text>
<text transform="translate(1086.33,622.95) scale(1.0712,1)" font-family='"Liberation Sans", sans-serif' font-size="15.41">10</text>
<text transform="translate(1159.80,622.95) scale(1.0544,1)" font-family='"Liberation Sans", sans-serif' font-size="15.41">15</text>
<text transform="translate(1233.05,622.95) scale(1.0807,1)" font-family='"Liberation Sans", sans-serif' font-size="15.41">20</text>
<text transform="translate(1261.53,622.95) scale(1.0756,1)" font-family='"Liberation Sans", sans-serif' font-size="15.41">40</text>
<text transform="translate(1307.17,622.95) scale(1.0656,1)" font-family='"Liberation Sans", sans-serif' font-size="15.41">50</text>
<line x1="1237.20" y1="374.40" x2="1247.60" y2="366.20" stroke="#000" stroke-width="0.9"/>
<line x1="1241.40" y1="374.40" x2="1243.40" y2="366.20" stroke="#000" stroke-width="0.9"/>
<line x1="1237.20" y1="613.40" x2="1247.60" y2="605.20" stroke="#000" stroke-width="0.9"/>
<line x1="1241.40" y1="613.40" x2="1243.40" y2="605.20" stroke="#000" stroke-width="0.9"/>
<text transform="translate(1079.51,364.70) scale(1.0523,1)" font-family='"Liberation Serif", serif' font-size="20.46" fill="#000" >MPEG</text>
<text transform="translate(1020.12,643.10) scale(1.0726,1)" font-family='"Liberation Serif", serif' font-size="20.46" fill="#000" >Size per frame (KB)</text>
<text transform="translate(908.00,523.30) rotate(-90) scale(1.1307,1)" x="-0.52" font-family='"Liberation Serif", serif' font-size="19.08">F-Score</text>
<text transform="translate(640.39,338.60) scale(1.0662,1)" font-family='"Liberation Serif", serif' font-size="29.01" fill="#000" >(a)</text>
<text transform="translate(639.48,688.20) scale(1.0693,1)" font-family='"Liberation Serif", serif' font-size="29.01" fill="#000" >(b)</text>
</svg></body></html>
